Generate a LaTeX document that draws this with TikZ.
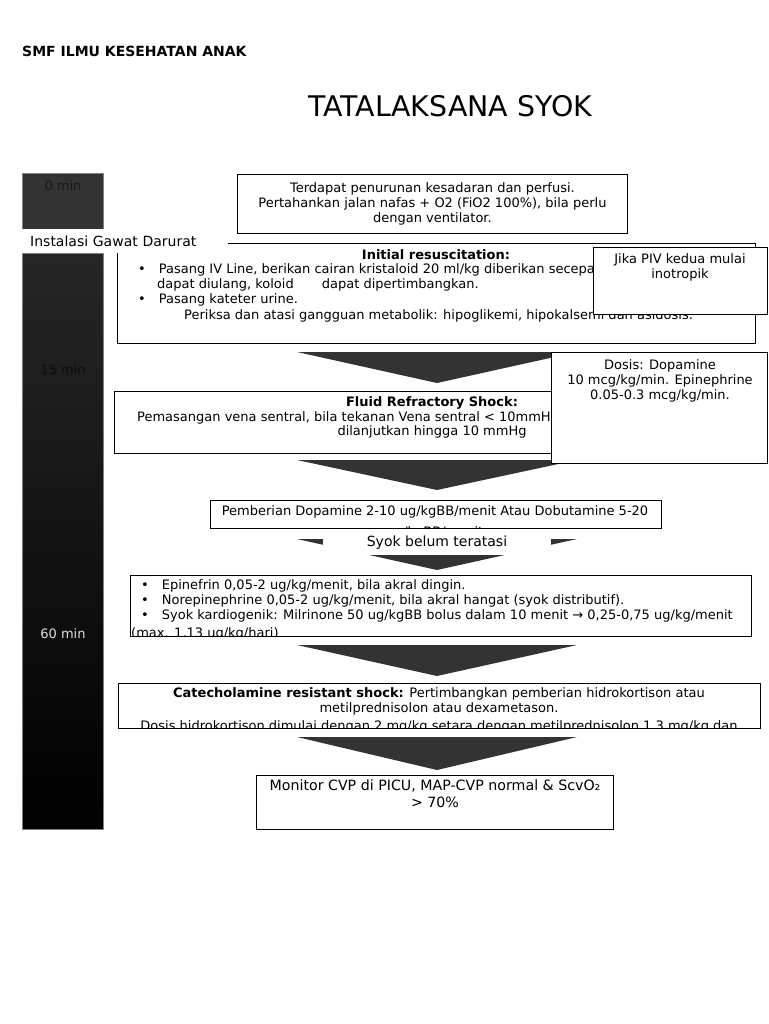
\documentclass[tikz,border=0pt]{standalone}
\usepackage{fontspec}
\setmainfont{DejaVu Sans}
\usetikzlibrary{positioning}

\definecolor{barTop}{HTML}{333333}
\definecolor{barMid}{HTML}{262626}
\tikzset{
  box/.style={draw, line width=0.9pt, fill=white, inner sep=0pt},
  chev/.style={fill=barTop},
  txt/.style={font=\fontsize{13}{15}\selectfont, inner sep=0pt},
  ctxt/.style={txt, align=center}
}

\begin{document}
\begin{tikzpicture}[x=1pt, y=-1pt]
\useasboundingbox (0,0) rectangle (768,1024);

% judul
\node[anchor=west, inner sep=0pt, font=\fontsize{14}{16}\selectfont\bfseries] (smf) at (22,51) {SMF ILMU KESEHATAN ANAK};
\node[inner sep=0pt, font=\fontsize{28.4}{32}\selectfont] (judul) at (450,106) {TATALAKSANA SYOK};

% garis waktu
\node[draw=black!50, fill=barTop, anchor=north west,
   minimum width=81pt, minimum height=56pt] (igd) at (22,173) {};
\path[draw=black!50, top color=barMid, bottom color=black]
   (22,253) rectangle (103,829);
\node[txt, text=black!90] (t0) at (63,186) {0 min};
\node[txt, text=black!95] (t15) at (63,370) {15 min};
\node[txt, text=black!12] (t60) at (63,634) {60 min};

% kotak awal
\node[box, anchor=north west,
   minimum width=390pt, minimum height=59pt] (awal) at (237,174) {};
\node[ctxt] at (awal.center) {Terdapat penurunan kesadaran dan perfusi.\\
   Pertahankan jalan nafas + O2 (FiO2 100\%), bila perlu\\ dengan ventilator.};

% initial resuscitation
\node[box, anchor=north west,
   minimum width=638pt, minimum height=100pt] (resus) at (117,243) {};
\node[txt, font=\fontsize{13}{15}\selectfont\bfseries] at (436,255) {Initial resuscitation:};
\node[txt, anchor=west] at (138,270) {•\quad Pasang IV Line, berikan cairan kristaloid 20 ml/kg diberikan secepatnya,};
\node[txt, anchor=west] at (157,285) {dapat diulang, koloid\hspace{24pt} dapat dipertimbangkan.};
\node[txt, anchor=west] at (138,300) {•\quad Pasang kateter urine.};
\node[txt, anchor=west] at (184,316) {Periksa dan atasi gangguan metabolik: hipoglikemi, hipokalsemi dan asidosis.};

\node[fill=white, anchor=west, inner ysep=0pt, inner xsep=8pt,
   text width=190pt, align=left, minimum height=24pt,
   font=\fontsize{14}{16}\selectfont] (label) at (22,241) {Instalasi Gawat Darurat};

\node[box, anchor=north west,
   minimum width=174pt, minimum height=67pt] (piv) at (593,247) {};
\node[ctxt, anchor=north] at (680,253) {Jika PIV kedua mulai\\ inotropik};

% panah besar
\foreach \y/\h in {352/31, 460/30, 539/31, 645/31, 737/33}
  \fill[chev] (297,\y) -- (577,\y) -- (437,\y+\h) -- cycle;

% fluid refractory
\node[box, anchor=north west,
   minimum width=636pt, minimum height=62pt] (fluid) at (114,391) {};
\node[txt, font=\fontsize{13}{15}\selectfont\bfseries] at (432,403) {Fluid Refractory Shock:};
\node[txt, anchor=west] at (137,418) {Pemasangan vena sentral, bila tekanan Vena sentral < 10mmHg, cairan};
\node[txt] at (432,432) {dilanjutkan hingga 10 mmHg};

\node[box, anchor=north west,
   minimum width=216pt, minimum height=111pt] (dosis) at (551,352) {};
\node[ctxt, anchor=north] at (660,359) {Dosis: Dopamine\\ 10 mcg/kg/min. Epinephrine\\ 0.05-0.3 mcg/kg/min.};

% dopamine
\node[box, anchor=north west,
   minimum width=451pt, minimum height=28pt] (dopa) at (210,500) {};
\begin{scope}
\clip (dopa.north west) rectangle (dopa.south east);
\node[ctxt, anchor=north] at (435,505) {Pemberian Dopamine 2-10 ug/kgBB/menit Atau Dobutamine 5-20\\[6pt] ug/kgBB/menit};
\end{scope}

\node[fill=white, inner sep=0pt, minimum width=228pt, minimum height=24pt,
   font=\fontsize{14}{16}\selectfont] (belum) at (437,543) {Syok belum teratasi};

% obat vasoaktif
\node[box, anchor=north west,
   minimum width=621pt, minimum height=61pt] (obat) at (130,575) {};
\begin{scope}
\clip (obat.north west) rectangle (obat.south east);
\node[txt, anchor=west] at (141,586) {•\quad Epinefrin 0,05-2 ug/kg/menit, bila akral dingin.};
\node[txt, anchor=west] at (141,601) {•\quad Norepinephrine 0,05-2 ug/kg/menit, bila akral hangat (syok distributif).};
\node[txt, anchor=west] at (141,616) {•\quad Syok kardiogenik: Milrinone 50 ug/kgBB bolus dalam 10 menit → 0,25-0,75 ug/kg/menit};
\node[txt, anchor=west] at (131,634) {(max. 1,13 ug/kg/hari)};
\end{scope}

% catecholamine resistant
\node[box, anchor=north west,
   minimum width=642pt, minimum height=45pt] (kate) at (118,683) {};
\begin{scope}
\clip (kate.north west) rectangle (kate.south east);
\node[ctxt, anchor=north] at (439,687) {\textbf{Catecholamine resistant shock:} Pertimbangkan pemberian hidrokortison atau\\
   metilprednisolon atau dexametason.\\[3pt]
   Dosis hidrokortison dimulai dengan 2 mg/kg setara dengan metilprednisolon 1,3 mg/kg dan};
\end{scope}

% monitor
\node[box, anchor=north west,
   minimum width=357pt, minimum height=54pt] (monitor) at (256,775) {};
\node[ctxt, anchor=north, font=\fontsize{14.2}{17}\selectfont] at (435,780) {Monitor CVP di PICU, MAP-CVP normal \& ScvO₂\\ > 70\%};
\end{tikzpicture}
\end{document}
